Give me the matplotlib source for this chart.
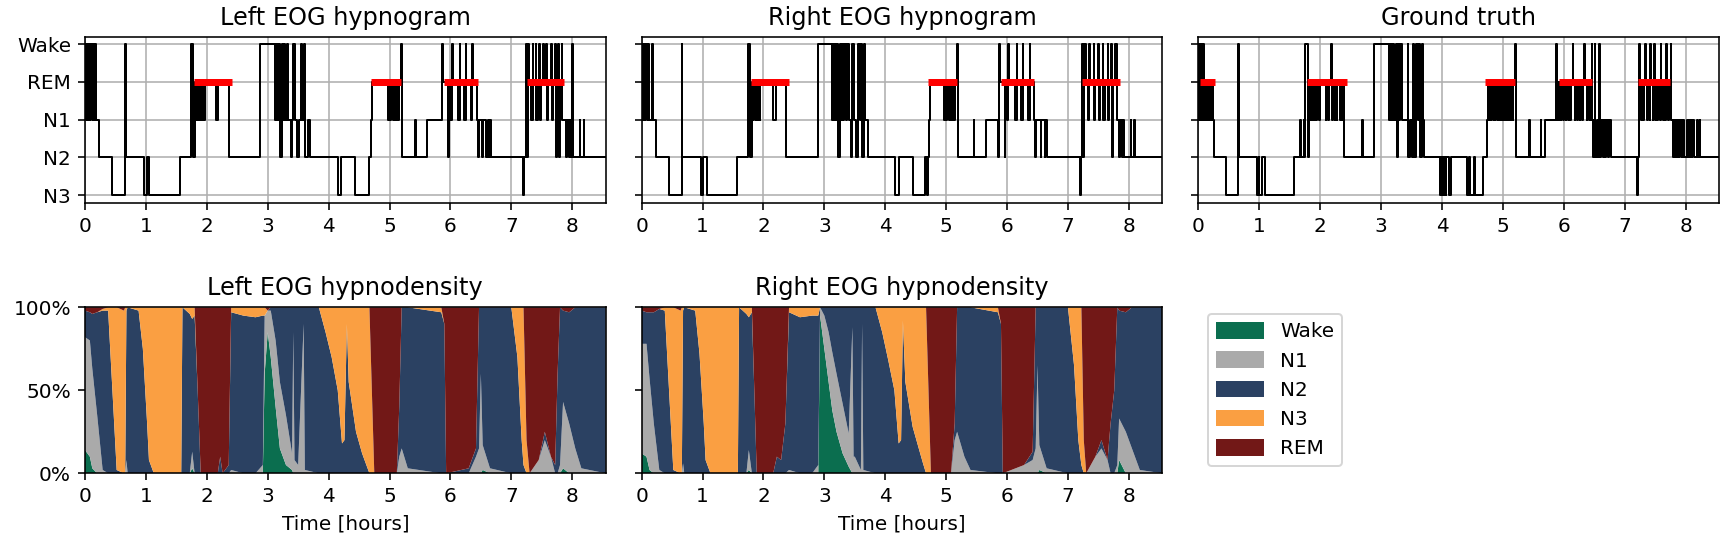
import matplotlib
matplotlib.use("Agg")
import matplotlib.pyplot as plt
from matplotlib.patches import Patch

# hypnogram levels, top to bottom
stage_names = ["Wake", "REM", "N1", "N2", "N3"]
stage_level = {"W": 4, "R": 3, "N1": 2, "N2": 1, "N3": 0}
t_end = 8.55
hour_ticks = list(range(9))

density_labels = ["Wake", "N1", "N2", "N3", "REM"]
density_colors = ["#0b6e4f", "#aaaaaa", "#2b4162", "#fa9f42", "#721817"]

# (start hour, stage) change points
left_hypnogram = [
    (0.00, "W"), (0.02, "N1"), (0.03, "W"), (0.05, "N1"), (0.06, "W"), (0.08, "N1"), (0.09, "W"),
    (0.11, "N1"), (0.135, "W"), (0.145, "N1"), (0.17, "W"), (0.18, "N1"), (0.23, "N2"), (0.45, "N3"),
    (0.66, "W"), (0.68, "N2"), (0.97, "N3"), (1.02, "N2"), (1.05, "N3"), (1.56, "N2"), (1.74, "W"),
    (1.78, "N2"), (1.81, "R"), (1.83, "N1"), (1.85, "R"), (1.87, "N1"), (1.88, "R"), (1.90, "N1"),
    (1.91, "R"), (1.93, "N1"), (1.94, "R"), (1.96, "N1"), (1.97, "R"), (2.15, "N1"), (2.19, "R"),
    (2.37, "N2"), (2.87, "W"), (3.12, "N1"), (3.13, "W"), (3.15, "N1"), (3.16, "W"), (3.18, "N1"),
    (3.19, "W"), (3.21, "N2"), (3.24, "W"), (3.26, "N1"), (3.27, "W"), (3.29, "N1"), (3.31, "W"),
    (3.33, "N1"), (3.38, "N2"), (3.40, "N1"), (3.42, "W"), (3.44, "N1"), (3.48, "N2"), (3.51, "N1"),
    (3.55, "W"), (3.57, "N1"), (3.60, "W"), (3.62, "N2"), (3.66, "N1"), (3.70, "N2"), (4.16, "N3"),
    (4.21, "N2"), (4.43, "N3"), (4.67, "N2"), (4.69, "N1"), (4.72, "R"), (4.97, "N1"), (4.99, "R"),
    (5.01, "N1"), (5.03, "R"), (5.05, "N1"), (5.07, "R"), (5.09, "N1"), (5.11, "R"), (5.13, "N1"),
    (5.16, "R"), (5.19, "W"), (5.20, "N2"), (5.42, "N1"), (5.43, "N2"), (5.61, "N1"), (5.86, "W"),
    (5.88, "R"), (5.96, "N2"), (5.97, "R"), (6.00, "N1"), (6.03, "W"), (6.04, "R"), (6.12, "N1"),
    (6.15, "W"), (6.16, "R"), (6.22, "N1"), (6.25, "W"), (6.26, "R"), (6.33, "N1"), (6.36, "W"),
    (6.37, "R"), (6.43, "N1"), (6.45, "N2"), (6.47, "N1"), (6.52, "N2"), (6.53, "N1"), (6.59, "N2"),
    (6.61, "N1"), (6.63, "N2"), (6.65, "N1"), (6.67, "N2"), (7.19, "N3"), (7.21, "N2"), (7.24, "W"),
    (7.25, "N2"), (7.27, "W"), (7.29, "R"), (7.33, "N1"), (7.35, "W"), (7.36, "R"), (7.40, "W"),
    (7.41, "N1"), (7.43, "R"), (7.46, "W"), (7.47, "N1"), (7.49, "R"), (7.52, "W"), (7.53, "R"),
    (7.57, "W"), (7.58, "N1"), (7.61, "R"), (7.65, "W"), (7.66, "N1"), (7.68, "R"), (7.72, "W"),
    (7.73, "N2"), (7.75, "R"), (7.77, "W"), (7.78, "N2"), (7.80, "R"), (7.83, "W"), (7.84, "N1"),
    (7.90, "N2"), (7.92, "N1"), (7.94, "N2"), (7.96, "N1"), (7.98, "N2"), (8.00, "W"), (8.01, "N1"),
    (8.02, "N2"), (8.12, "N1"), (8.13, "N2"), (8.19, "N1"), (8.20, "N2"),
]

right_hypnogram = [
    (0.00, "W"), (0.02, "N1"), (0.03, "W"), (0.05, "N1"), (0.06, "W"), (0.09, "N1"), (0.10, "W"),
    (0.12, "N1"), (0.17, "W"), (0.18, "N1"), (0.23, "N2"), (0.45, "N3"), (0.66, "W"), (0.67, "N2"),
    (0.98, "N3"), (1.00, "N2"), (1.07, "N3"), (1.56, "N2"), (1.74, "W"), (1.78, "N2"), (1.81, "R"),
    (1.83, "N1"), (1.85, "R"), (1.87, "N1"), (1.88, "R"), (1.90, "N1"), (1.92, "R"), (1.94, "N1"),
    (1.95, "R"), (2.16, "N1"), (2.20, "R"), (2.37, "N2"), (2.89, "W"), (3.13, "N1"), (3.14, "W"),
    (3.16, "N1"), (3.17, "W"), (3.19, "N1"), (3.20, "W"), (3.23, "N2"), (3.26, "W"), (3.28, "N1"),
    (3.29, "W"), (3.31, "N1"), (3.33, "W"), (3.35, "N1"), (3.38, "W"), (3.40, "N1"), (3.44, "N2"),
    (3.46, "W"), (3.48, "N1"), (3.52, "N2"), (3.56, "W"), (3.58, "N1"), (3.60, "W"), (3.62, "N2"),
    (3.65, "W"), (3.67, "N1"), (3.71, "N2"), (4.16, "N3"), (4.22, "N2"), (4.45, "N3"), (4.66, "N2"),
    (4.68, "N3"), (4.70, "N2"), (4.72, "N1"), (4.74, "R"), (4.96, "N1"), (4.98, "R"), (5.00, "N1"),
    (5.02, "R"), (5.04, "N1"), (5.06, "R"), (5.08, "N1"), (5.10, "R"), (5.12, "N1"), (5.15, "R"),
    (5.18, "W"), (5.19, "N2"), (5.45, "N1"), (5.46, "N2"), (5.65, "N1"), (5.85, "N2"), (5.87, "W"),
    (5.89, "R"), (5.96, "N2"), (5.97, "R"), (6.00, "N1"), (6.02, "W"), (6.03, "R"), (6.13, "N1"),
    (6.16, "W"), (6.17, "R"), (6.23, "N1"), (6.26, "W"), (6.27, "R"), (6.34, "N1"), (6.37, "W"),
    (6.38, "R"), (6.44, "N1"), (6.46, "N2"), (6.48, "N1"), (6.55, "N2"), (6.56, "N1"), (6.62, "N2"),
    (6.63, "N1"), (6.66, "N2"), (7.19, "N3"), (7.21, "N2"), (7.23, "W"), (7.25, "N2"), (7.27, "W"),
    (7.29, "R"), (7.33, "N1"), (7.35, "W"), (7.36, "R"), (7.42, "W"), (7.43, "N1"), (7.45, "R"),
    (7.50, "W"), (7.51, "N1"), (7.53, "R"), (7.57, "W"), (7.58, "N1"), (7.61, "R"), (7.65, "W"),
    (7.66, "N1"), (7.68, "R"), (7.71, "W"), (7.72, "N2"), (7.74, "R"), (7.78, "W"), (7.80, "N1"),
    (7.83, "N2"), (7.85, "N1"), (7.88, "N2"), (7.91, "N1"), (7.92, "N2"), (8.03, "N1"), (8.04, "N2"),
    (8.09, "N1"), (8.10, "N2"),
]

truth_hypnogram = [
    (0.00, "W"), (0.01, "N1"), (0.02, "W"), (0.03, "N1"), (0.04, "W"), (0.06, "N1"), (0.07, "W"),
    (0.09, "N1"), (0.10, "R"), (0.11, "N1"), (0.12, "R"), (0.13, "N1"), (0.15, "R"), (0.16, "N1"),
    (0.17, "R"), (0.19, "N1"), (0.20, "R"), (0.21, "N1"), (0.22, "R"), (0.24, "N1"), (0.25, "N2"),
    (0.46, "N3"), (0.65, "W"), (0.67, "N2"), (0.96, "N3"), (0.99, "N2"), (1.00, "N3"), (1.04, "N2"),
    (1.09, "N3"), (1.57, "N2"), (1.67, "N1"), (1.68, "N2"), (1.73, "N1"), (1.74, "N2"), (1.76, "W"),
    (1.80, "N2"), (1.81, "N1"), (1.83, "R"), (1.85, "N1"), (1.86, "R"), (1.88, "N1"), (1.89, "R"),
    (1.91, "N1"), (1.92, "R"), (1.94, "N1"), (1.95, "R"), (1.99, "N1"), (2.00, "R"), (2.09, "N1"),
    (2.10, "R"), (2.13, "N1"), (2.15, "R"), (2.18, "W"), (2.19, "R"), (2.20, "N1"), (2.22, "R"),
    (2.24, "N1"), (2.25, "R"), (2.27, "N1"), (2.28, "R"), (2.33, "N1"), (2.34, "R"), (2.36, "N1"),
    (2.37, "R"), (2.39, "N1"), (2.40, "N2"), (2.69, "N1"), (2.70, "N2"), (2.89, "W"), (3.13, "N1"),
    (3.14, "W"), (3.16, "N1"), (3.17, "W"), (3.19, "N1"), (3.20, "W"), (3.22, "N1"), (3.24, "W"),
    (3.26, "N2"), (3.28, "W"), (3.30, "N1"), (3.32, "W"), (3.34, "N1"), (3.44, "W"), (3.45, "N2"),
    (3.48, "N1"), (3.51, "N2"), (3.53, "W"), (3.55, "N2"), (3.57, "W"), (3.60, "N1"), (3.62, "W"),
    (3.64, "N2"), (3.67, "W"), (3.69, "N1"), (3.71, "N2"), (3.97, "N3"), (3.98, "N2"), (4.00, "N3"),
    (4.01, "N2"), (4.03, "N3"), (4.04, "N2"), (4.06, "N3"), (4.07, "N2"), (4.12, "N3"), (4.15, "N2"),
    (4.41, "N3"), (4.44, "N2"), (4.46, "N3"), (4.53, "N2"), (4.54, "N3"), (4.67, "N2"), (4.74, "N1"),
    (4.75, "R"), (4.77, "N1"), (4.78, "R"), (4.80, "N1"), (4.81, "R"), (4.84, "N1"), (4.85, "R"),
    (4.87, "N1"), (4.88, "R"), (4.91, "N1"), (4.92, "R"), (4.94, "N1"), (4.95, "R"), (4.97, "N1"),
    (4.98, "R"), (5.00, "N1"), (5.01, "R"), (5.03, "N1"), (5.04, "R"), (5.06, "N1"), (5.08, "R"),
    (5.10, "N1"), (5.11, "R"), (5.13, "N1"), (5.14, "R"), (5.16, "N1"), (5.17, "R"), (5.20, "W"),
    (5.21, "N2"), (5.43, "N1"), (5.44, "N2"), (5.62, "N1"), (5.63, "N2"), (5.69, "N1"), (5.87, "W"),
    (5.89, "N1"), (5.90, "R"), (5.92, "N1"), (5.93, "R"), (5.95, "N1"), (5.96, "R"), (5.99, "N1"),
    (6.00, "R"), (6.03, "N1"), (6.04, "R"), (6.07, "N1"), (6.08, "R"), (6.11, "N1"), (6.12, "R"),
    (6.15, "W"), (6.16, "R"), (6.18, "N1"), (6.19, "R"), (6.22, "N1"), (6.23, "R"), (6.26, "N1"),
    (6.27, "R"), (6.30, "N1"), (6.31, "R"), (6.34, "W"), (6.35, "R"), (6.38, "N1"), (6.39, "R"),
    (6.42, "N1"), (6.43, "R"), (6.44, "N1"), (6.46, "W"), (6.47, "N1"), (6.48, "N2"), (6.50, "N1"),
    (6.51, "W"), (6.52, "N2"), (6.54, "N1"), (6.56, "N2"), (6.58, "W"), (6.59, "N1"), (6.60, "N2"),
    (6.62, "N1"), (6.64, "N2"), (6.66, "N1"), (6.68, "N2"), (6.70, "N1"), (6.73, "N2"), (6.75, "N1"),
    (6.77, "N2"), (7.21, "N3"), (7.22, "N2"), (7.24, "W"), (7.25, "R"), (7.27, "N1"), (7.28, "R"),
    (7.31, "N1"), (7.32, "R"), (7.34, "W"), (7.35, "R"), (7.37, "N1"), (7.38, "R"), (7.41, "N1"),
    (7.42, "W"), (7.43, "R"), (7.46, "N1"), (7.47, "R"), (7.49, "W"), (7.50, "N1"), (7.51, "R"),
    (7.54, "N1"), (7.55, "R"), (7.58, "N1"), (7.59, "W"), (7.60, "R"), (7.63, "N1"), (7.64, "R"),
    (7.67, "N1"), (7.68, "W"), (7.69, "R"), (7.72, "N1"), (7.73, "R"), (7.76, "W"), (7.77, "N1"),
    (7.80, "N2"), (7.81, "N1"), (7.83, "N2"), (7.84, "N1"), (7.86, "N2"), (7.87, "N1"), (7.89, "N2"),
    (7.90, "N1"), (7.92, "N2"), (7.94, "N1"), (7.95, "N2"), (7.96, "N1"), (7.97, "N2"), (8.03, "N1"),
    (8.04, "N2"), (8.05, "N1"), (8.07, "N2"), (8.08, "N1"), (8.10, "N2"), (8.11, "N1"), (8.14, "N2"),
    (8.19, "N1"), (8.20, "N2"), (8.23, "N1"), (8.24, "N2"),
]

# REM periods marked in red (start, end) in hours
left_rem_bars = [(1.79, 2.42), (4.70, 5.19), (5.89, 6.45), (7.25, 7.87)]
right_rem_bars = [(1.79, 2.42), (4.70, 5.18), (5.90, 6.45), (7.23, 7.85)]
truth_rem_bars = [(0.02, 0.27), (1.78, 2.45), (4.70, 5.20), (5.92, 6.47), (7.22, 7.75)]

# hypnodensity, percent per class
left_t = [0.00, 0.08, 0.12, 0.20, 0.29, 0.38, 0.45, 0.52, 0.64, 0.66,
          0.68, 0.70, 0.88, 0.95, 1.02, 1.05, 1.10, 1.13, 1.58, 1.60,
          1.72, 1.76, 1.80, 1.85, 1.90, 2.18, 2.22, 2.26, 2.36, 2.40,
          2.60, 2.80, 2.92, 2.95, 3.00, 3.05, 3.13, 3.20, 3.30, 3.40,
          3.42, 3.44, 3.50, 3.59, 3.61, 3.84, 3.95, 4.05, 4.15, 4.22, 4.26, 4.30, 4.33, 4.45,
          4.55, 4.62, 4.67, 4.71, 4.75, 5.12, 5.16, 5.20, 5.30, 5.85,
          5.90, 5.93, 6.30, 6.42, 6.47, 6.50, 6.53, 6.65, 7.00, 7.10,
          7.17, 7.20, 7.25, 7.30, 7.45, 7.55, 7.65, 7.72, 7.76, 7.80,
          7.85, 7.95, 8.05, 8.15, 8.55]
left_wake = [14, 10, 3, 0, 0, 0, 0, 0, 0, 0,
             0, 0, 0, 0, 0, 0, 0, 0, 0, 0,
             0, 3, 0, 0, 0, 0, 0, 0, 0, 0,
             0, 0, 0, 60, 85, 70, 40, 15, 5, 2,
             0, 0, 0, 0, 0, 0, 0, 0, 0, 0, 0, 0, 0, 0,
             0, 0, 0, 0, 0, 0, 0, 0, 0, 0,
             0, 0, 0, 0, 0, 0, 2, 0, 0, 0,
             0, 0, 0, 0, 0, 0, 0, 0, 0, 0,
             3, 0, 0, 0, 0]
left_n1 = [68, 70, 60, 35, 2, 0, 0, 0, 0, 0,
           8, 0, 0, 0, 0, 0, 0, 0, 0, 0,
           0, 10, 0, 0, 0, 0, 0, 0, 0, 2,
           0, 0, 5, 35, 13, 28, 40, 40, 30, 10,
           85, 8, 5, 90, 2, 0, 0, 0, 0, 0, 0, 0, 0, 0,
           0, 0, 0, 0, 0, 0, 10, 15, 3, 0,
           0, 0, 0, 10, 15, 60, 15, 3, 0, 0,
           0, 0, 0, 0, 8, 20, 10, 0, 0, 5,
           40, 30, 15, 3, 0]
left_n2 = [16, 17, 33, 62, 96, 98, 50, 2, 0, 0,
           90, 100, 98, 75, 30, 8, 3, 0, 0, 100,
           96, 80, 95, 50, 0, 0, 10, 0, 5, 95,
           95, 94, 90, 0, 0, 2, 20, 45, 65, 88,
           15, 92, 95, 10, 98, 100, 85, 70, 50, 18, 20, 90, 55, 25,
           12, 5, 0, 0, 0, 0, 30, 85, 97, 97,
           90, 0, 3, 5, 85, 40, 83, 97, 100, 70,
           20, 5, 0, 0, 0, 5, 0, 5, 60, 95,
           55, 67, 85, 97, 100]
left_n3 = [0, 0, 0, 0, 1, 2, 50, 98, 98, 100,
           2, 0, 2, 25, 70, 92, 97, 100, 100, 0,
           4, 7, 5, 0, 0, 0, 0, 0, 0, 3,
           5, 6, 5, 5, 0, 0, 0, 0, 0, 0,
           0, 0, 0, 0, 0, 0, 15, 30, 50, 82, 80, 10, 45, 75,
           88, 95, 100, 50, 0, 0, 0, 0, 0, 3,
           0, 0, 0, 0, 0, 0, 0, 0, 0, 30,
           80, 95, 20, 0, 0, 0, 0, 0, 0, 0,
           0, 0, 0, 0, 0]
left_rem = [2, 3, 4, 3, 1, 0, 0, 0, 2, 0,
            0, 0, 0, 0, 0, 0, 0, 0, 0, 0,
            0, 0, 0, 50, 100, 100, 90, 100, 95, 0,
            0, 0, 0, 0, 2, 0, 0, 0, 0, 0,
            0, 0, 0, 0, 0, 0, 0, 0, 0, 0, 0, 0, 0, 0,
            0, 0, 0, 50, 100, 100, 60, 0, 0, 0,
            10, 100, 97, 85, 0, 0, 0, 0, 0, 0,
            0, 0, 80, 100, 92, 75, 90, 95, 40, 0,
            2, 3, 0, 0, 0]

right_t = [0.00, 0.08, 0.13, 0.20, 0.29, 0.38, 0.45, 0.52, 0.64, 0.66,
           0.68, 0.70, 0.88, 0.95, 1.02, 1.05, 1.10, 1.13, 1.58, 1.60,
           1.72, 1.76, 1.81, 1.85, 1.89, 2.16, 2.22, 2.29, 2.36, 2.42,
           2.60, 2.80, 2.90, 2.93, 3.00, 3.07, 3.13, 3.20, 3.30, 3.40,
           3.46, 3.48, 3.50, 3.60, 3.62, 3.64, 3.84, 3.95, 4.05, 4.15, 4.22, 4.26, 4.29, 4.33,
           4.45, 4.55, 4.62, 4.67, 4.71, 4.75, 5.08, 5.14, 5.18, 5.30,
           5.40, 5.85, 5.90, 5.93, 6.28, 6.42, 6.47, 6.50, 6.53, 6.65,
           7.00, 7.10, 7.17, 7.22, 7.26, 7.30, 7.45, 7.55, 7.65, 7.70,
           7.76, 7.81, 7.84, 7.95, 8.05, 8.18, 8.55]
right_wake = [12, 10, 2, 0, 0, 0, 0, 0, 0, 0,
              0, 0, 0, 0, 0, 0, 0, 0, 0, 0,
              0, 2, 0, 0, 0, 0, 0, 0, 0, 0,
              0, 0, 0, 95, 75, 55, 38, 25, 12, 4,
              0, 0, 0, 0, 0, 0, 0, 0, 0, 0, 0, 0, 0, 0,
              0, 0, 0, 0, 0, 0, 0, 0, 0, 0,
              0, 0, 0, 0, 0, 0, 0, 0, 2, 0,
              0, 0, 0, 0, 0, 0, 0, 0, 0, 0,
              0, 0, 8, 0, 0, 0, 0]
right_n1 = [66, 68, 55, 30, 2, 0, 0, 0, 0, 0,
            6, 0, 0, 0, 0, 0, 0, 0, 0, 0,
            0, 12, 0, 0, 0, 0, 0, 0, 0, 2,
            0, 0, 5, 5, 20, 30, 35, 35, 30, 20,
            88, 10, 10, 2, 90, 2, 0, 0, 0, 0, 0, 0, 0, 0,
            0, 0, 0, 0, 0, 0, 0, 20, 25, 10,
            2, 0, 0, 0, 5, 8, 15, 65, 15, 3,
            0, 0, 0, 0, 0, 0, 10, 15, 8, 0,
            0, 5, 25, 25, 15, 2, 0]
right_n2 = [20, 19, 40, 67, 97, 98, 50, 2, 0, 0,
            92, 100, 98, 72, 30, 8, 3, 0, 0, 100,
            96, 80, 97, 50, 0, 0, 10, 8, 30, 95,
            94, 95, 90, 0, 5, 15, 27, 40, 58, 76,
            12, 90, 90, 98, 10, 98, 100, 85, 68, 50, 18, 20, 92, 55,
            28, 15, 6, 0, 0, 0, 0, 10, 75, 90,
            98, 97, 90, 0, 0, 5, 85, 35, 83, 97,
            100, 65, 20, 5, 0, 0, 0, 5, 0, 30,
            50, 95, 65, 72, 85, 98, 100]
right_n3 = [0, 0, 0, 0, 0, 2, 50, 98, 98, 100,
            2, 0, 2, 28, 70, 92, 97, 100, 100, 0,
            4, 6, 3, 0, 0, 0, 0, 0, 0, 3,
            6, 5, 5, 0, 0, 0, 0, 0, 0, 0,
            0, 0, 0, 0, 0, 0, 0, 15, 32, 50, 82, 80, 8, 45,
            72, 85, 94, 100, 50, 0, 0, 0, 0, 0,
            0, 3, 0, 0, 0, 0, 0, 0, 0, 0,
            0, 35, 80, 95, 20, 0, 0, 0, 0, 0,
            0, 0, 0, 0, 0, 0, 0]
right_rem = [2, 3, 3, 3, 1, 0, 0, 0, 2, 0,
             0, 0, 0, 0, 0, 0, 0, 0, 0, 0,
             0, 0, 0, 50, 100, 100, 90, 92, 70, 0,
             0, 0, 0, 0, 0, 0, 0, 0, 0, 0,
             0, 0, 0, 0, 0, 0, 0, 0, 0, 0, 0, 0, 0, 0,
             0, 0, 0, 0, 50, 100, 100, 70, 0, 0,
             0, 0, 10, 100, 95, 87, 0, 0, 0, 0,
             0, 0, 0, 0, 80, 100, 90, 80, 92, 70,
             50, 0, 2, 3, 0, 0, 0]


def draw_hypnogram(ax, changes, rem_bars, title):
    t = [c[0] for c in changes] + [t_end]
    y = [stage_level[c[1]] for c in changes]
    y = y + [y[-1]]
    ax.plot(t, y, drawstyle="steps-post", color="k", linewidth=1)
    ax.hlines([stage_level["R"]] * len(rem_bars), [b[0] for b in rem_bars],
              [b[1] for b in rem_bars], color="red", linewidth=3.5, zorder=3)
    ax.set_xlim(0, t_end)
    ax.set_ylim(-0.2, 4.2)
    ax.set_yticks([4, 3, 2, 1, 0])
    ax.set_xticks(hour_ticks)
    ax.grid(True)
    ax.set_title(title)


def draw_density(ax, t, series, title):
    ax.stackplot(t, *series, colors=density_colors, linewidth=0)
    ax.set_xlim(0, t_end)
    ax.set_ylim(0, 100)
    ax.set_yticks([0, 50, 100])
    ax.set_xticks(hour_ticks)
    ax.set_xlabel("Time [hours]")
    ax.set_title(title)


fig, axes = plt.subplots(2, 3, figsize=(1721 / 144, 548 / 144), dpi=144)
fig.subplots_adjust(left=85 / 1721, right=1719 / 1721, top=1 - 36.7 / 548,
                    bottom=1 - 473.3 / 548, wspace=0.069, hspace=0.63)

draw_hypnogram(axes[0, 0], left_hypnogram, left_rem_bars, "Left EOG hypnogram")
draw_hypnogram(axes[0, 1], right_hypnogram, right_rem_bars, "Right EOG hypnogram")
draw_hypnogram(axes[0, 2], truth_hypnogram, truth_rem_bars, "Ground truth")
axes[0, 0].set_yticklabels(stage_names)
axes[0, 1].set_yticklabels([])
axes[0, 2].set_yticklabels([])

draw_density(axes[1, 0], left_t, [left_wake, left_n1, left_n2, left_n3, left_rem],
             "Left EOG hypnodensity")
draw_density(axes[1, 1], right_t, [right_wake, right_n1, right_n2, right_n3, right_rem],
             "Right EOG hypnodensity")
axes[1, 0].set_yticklabels(["0%", "50%", "100%"])
axes[1, 1].set_yticklabels([])

axes[1, 2].axis("off")
handles = [Patch(facecolor=c, label=l) for c, l in zip(density_colors, density_labels)]
axes[1, 2].legend(handles=handles, loc="center left", handlelength=2.4, handleheight=0.9)

fig.savefig("out.png", dpi=144)
